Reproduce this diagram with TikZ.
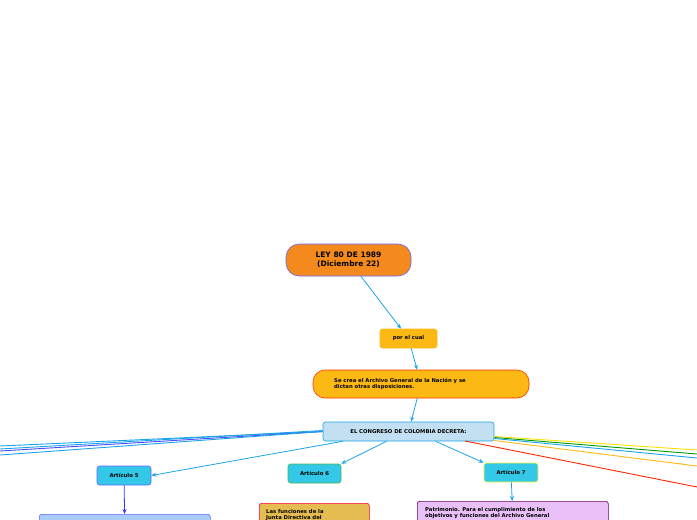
\documentclass[tikz,border=0pt]{standalone}
\usepackage{fontspec}
\setmainfont{DejaVu Sans}
\usetikzlibrary{arrows.meta}
\definecolor{cor}{HTML}{F48A1E}
\definecolor{cye}{HTML}{FDB913}
\definecolor{clb}{HTML}{C3DFF2}
\definecolor{ccy}{HTML}{33C8E8}
\definecolor{cbl}{HTML}{1AA3E8}
\definecolor{cb5}{HTML}{A7CDF8}
\definecolor{cgd}{HTML}{E5BC50}
\definecolor{cpu}{HTML}{E9BFF8}
\begin{document}
\begin{tikzpicture}[x=1pt,y=-1pt,
 box/.style={draw,rounded corners=2.5pt,line width=0.6pt,font=\bfseries\fontsize{5.3}{6.4}\selectfont,inner sep=0pt},
 conn/.style={draw=cbl,line width=0.8pt,-{Stealth[length=5pt,width=4pt]}},
 edge/.style={line width=0.9pt}]
\useasboundingbox (0,0) rectangle (697,520);
\clip (0,0) rectangle (697,520);
\node[box,fill=cor,draw=blue!60,rounded corners=13pt,minimum width=125pt,minimum height=32pt,align=center,font=\bfseries\fontsize{7.5}{9}\selectfont] (ley) at (348.5,260) {LEY 80 DE 1989\\(Diciembre 22)};
\node[box,fill=cye,draw=cye,minimum width=57pt,minimum height=19pt] (por) at (408.5,338.5) {por el cual};
\node[box,fill=cye,draw=red!60!orange,rounded corners=12pt,minimum width=216pt,minimum height=28pt] (crea) at (421,384) {};
\node[anchor=west,inner sep=0pt,align=left,font=\bfseries\fontsize{5.3}{6.4}\selectfont] at (334,384) {Se crea el Archivo General de la Nación y se\\dictan otras disposiciones.};
\node[box,fill=clb,draw=cbl,minimum width=171pt,minimum height=19pt] (cong) at (408.5,431.5) {EL CONGRESO DE COLOMBIA DECRETA:};
\node[box,fill=ccy,draw=blue!60,minimum width=54pt,minimum height=19pt] (a5) at (124,475.5) {Artículo 5};
\node[box,fill=ccy,draw=green!60!black!70,minimum width=53pt,minimum height=19pt] (a6) at (314.5,473.5) {Artículo 6};
\node[box,fill=ccy,draw=yellow!80,minimum width=54pt,minimum height=19pt] (a7) at (511,472.5) {Artículo 7};
\node[box,fill=cb5,draw=blue!60,anchor=north west,minimum width=171pt,minimum height=30pt] (b5) at (39,514) {};
\node[box,fill=cgd,draw=red!80!magenta,anchor=north west,minimum width=110pt,minimum height=30pt] (b6) at (259,503) {};
\node[anchor=north west,inner sep=0pt,align=left,font=\bfseries\fontsize{5.3}{6.4}\selectfont] at (266,509) {Las funciones de la\\Junta Directiva del};
\node[box,fill=cpu,draw=violet!80!black,anchor=north west,minimum width=191pt,minimum height=30pt] (b7) at (417,501) {};
\node[anchor=north west,inner sep=0pt,align=left,font=\bfseries\fontsize{5.3}{6.4}\selectfont] at (425,507) {Patrimonio. Para el cumplimiento de los\\objetivos y funciones del Archivo General};
\draw[conn] (ley) -- (por);
\draw[conn] (por) -- (crea);
\draw[conn] (crea) -- (cong);
\draw[conn] (cong.south west) ++(20,0) -- (a5.east);
\draw[conn] (cong.south) ++(-22,0) -- (a6.north east);
\draw[conn] (cong.south) ++(27,0) -- (a7.north west);
\draw[conn,draw=blue!80] (a5) -- (b5);
\draw[conn] (a7) -- (b7);
\draw[edge,cbl] (cong.west) -- (0,446);
\draw[edge,blue!70] (cong.west) -- (0,451);
\draw[edge,cbl] (cong.west) -- (0,455);
\draw[edge,cbl] (cong.west) ++(0,-1) -- (0,449);
\draw[edge,yellow!85!orange] (cong.east) ++(0,5) -- (697,450);
\draw[edge,green!60!black] (cong.east) ++(0,6) -- (697,454);
\draw[edge,cbl] (cong.east) ++(0,7) -- (697,458);
\draw[edge,cye] (cong.east) ++(0,9) -- (697,466);
\draw[edge,red!70!orange] (465,441) -- (697,487);
\end{tikzpicture}
\end{document}
